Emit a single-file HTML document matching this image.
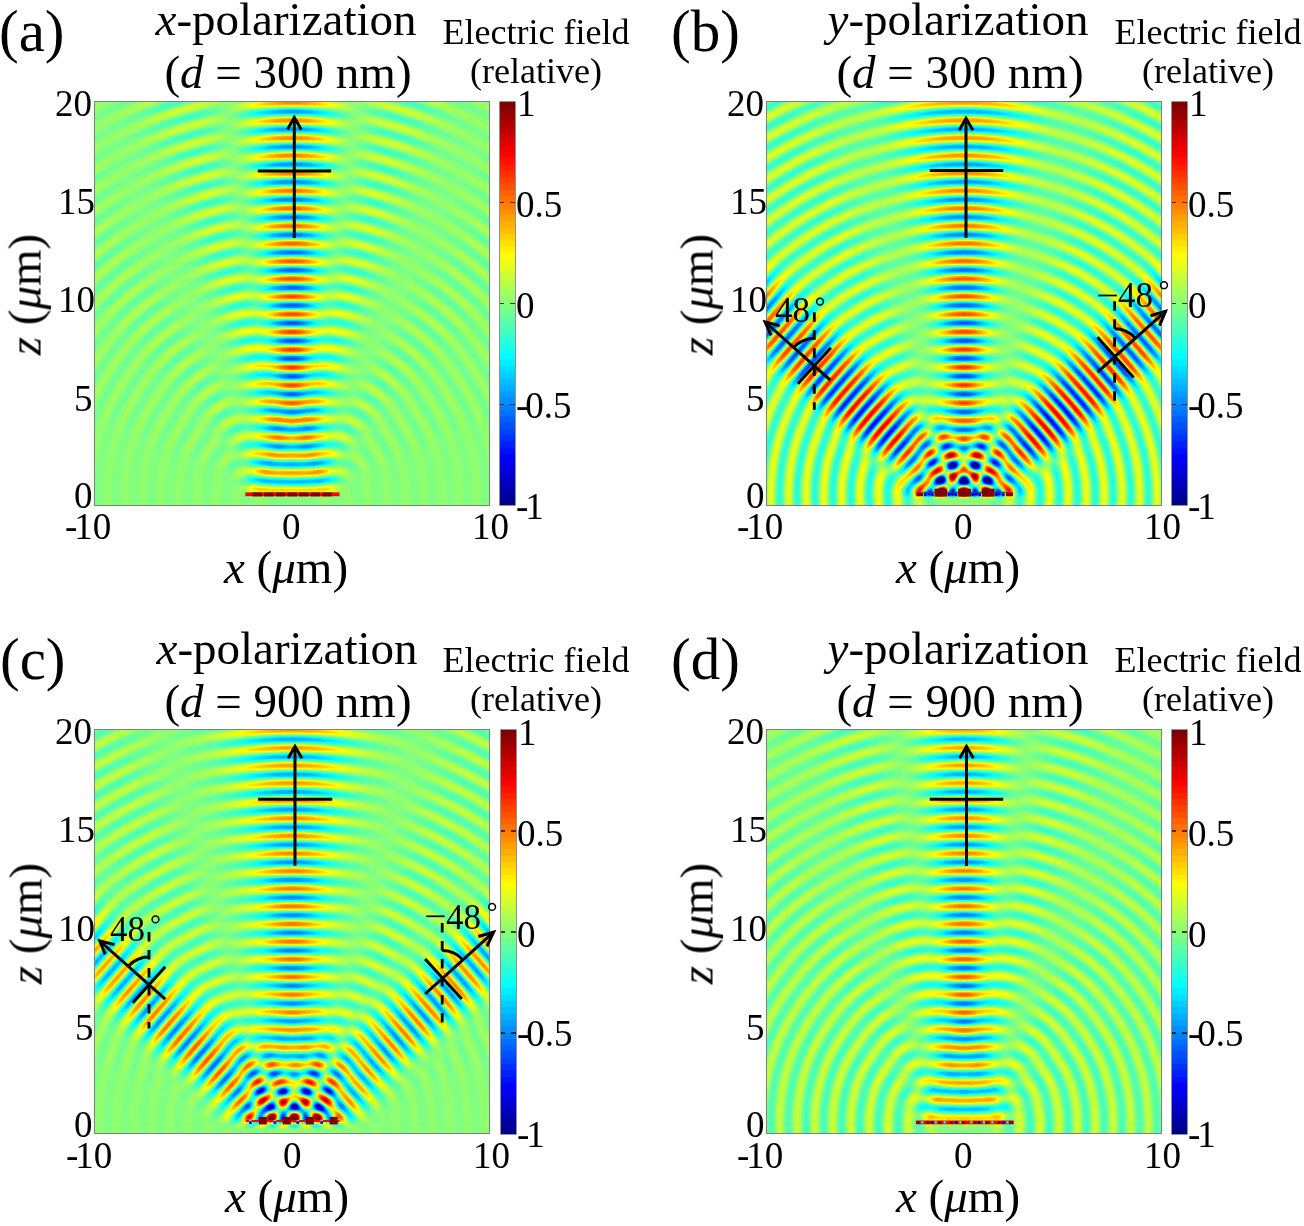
<!DOCTYPE html>
<html><head><meta charset="utf-8"><title>Electric field</title>
<style>
html,body{margin:0;padding:0;background:#fff;}
body{width:1304px;height:1226px;position:relative;overflow:hidden;font-family:"Liberation Serif",serif;color:#000;}
.pan{position:absolute;width:394px;height:403px;}
.plot{position:absolute;left:0;top:0;width:394px;height:403px;background:#80ff80;box-shadow:0 0 0 1px #808080;}
.cbar{position:absolute;left:405.5px;top:0.1px;width:15.1px;height:403.7px;box-shadow:0 0 0 0.7px rgba(60,60,60,.8);
 background:linear-gradient(to bottom,#800000,#ff0000 12.5%,#ffff00 37.5%,#80ff80 50%,#00ffff 62.5%,#0000ff 87.5%,#00008f);}
.cbc{position:absolute;left:0;top:0;width:15px;height:403.7px;}
.tk{position:absolute;left:0;width:15px;height:1.3px;background:linear-gradient(to right,rgba(40,20,0,.8) 0,rgba(40,20,0,.8) 3.6px,transparent 3.6px,transparent 10.4px,rgba(40,20,0,.8) 10.4px);}
.t{position:absolute;line-height:1;white-space:nowrap;will-change:transform;}
.hy{margin-right:-3px;}
.c{text-align:center;}
.ylab{transform:rotate(-90deg);transform-origin:50% 50%;}
.ov{position:absolute;left:0;top:0;overflow:visible;}
#ovl{position:absolute;left:0;top:0;}
#ovl .ds{stroke-dasharray:9.5 8.5;stroke-width:2.8;}
#ovl .mn{stroke-width:1.7;}
#ovl .dg{stroke-width:1.5;}
</style></head><body>

<div class="pan" style="left:94.5px;top:101.5px">
<canvas id="cva" class="plot" width="394" height="403"></canvas>
<div class="cbar"><canvas class="cbc" width="15" height="404"></canvas><i class="tk" style="top:100.4px"></i><i class="tk" style="top:201.4px"></i><i class="tk" style="top:302.4px"></i></div>
<div class="t" style="left:-95.05px;top:-99.70px;font-size:59px;">(a)</div>
<div class="t c" style="left:-8.5px;width:400px;top:-105.16px;font-size:47px"><i>x</i>-polarization</div>
<div class="t c" style="left:-6.599999999999994px;width:400px;top:-52.30px;font-size:47px">(<i>d</i> = 300 nm)</div>
<div class="t c" style="left:291.05px;width:300px;top:-87.75px;font-size:36px">Electric field</div>
<div class="t c" style="left:291.05px;width:300px;top:-48.65px;font-size:36px">(relative)</div>
<div class="t" style="left:-39.70px;top:-17.00px;font-size:37px;">20</div>
<div class="t" style="left:-36.90px;top:81.10px;font-size:37px;">15</div>
<div class="t" style="left:-36.90px;top:179.90px;font-size:37px;">10</div>
<div class="t" style="left:-20.50px;top:278.80px;font-size:37px;">5</div>
<div class="t" style="left:-20.60px;top:375.90px;font-size:37px;">0</div>
<div class="t" style="left:-29.40px;top:406.70px;font-size:37px;"><span class="hy">-</span>10</div>
<div class="t" style="left:187.70px;top:406.70px;font-size:37px;">0</div>
<div class="t" style="left:377.70px;top:406.70px;font-size:37px;">10</div>
<div class="t" style="left:422.90px;top:-16.30px;font-size:37px;">1</div>
<div class="t" style="left:421.80px;top:84.70px;font-size:37px;">0.5</div>
<div class="t" style="left:421.80px;top:185.80px;font-size:37px;">0</div>
<div class="t" style="left:421.60px;top:285.40px;font-size:37px;"><span class="hy">-</span>0.5</div>
<div class="t" style="left:421.60px;top:386.30px;font-size:37px;"><span class="hy">-</span>1</div>
<div class="t c" style="left:-8.099999999999994px;width:400px;top:442.90px;font-size:47px"><i>x</i> (<i>&mu;</i>m)</div>
<div class="t c ylab" style="left:-269.1px;width:400px;top:169.85px;font-size:47px"><i>z</i> (<i>&mu;</i>m)</div>

</div>
<div class="pan" style="left:766.5px;top:101.5px">
<canvas id="cvb" class="plot" width="394" height="403"></canvas>
<div class="cbar"><canvas class="cbc" width="15" height="404"></canvas><i class="tk" style="top:100.4px"></i><i class="tk" style="top:201.4px"></i><i class="tk" style="top:302.4px"></i></div>
<div class="t" style="left:-95.05px;top:-99.70px;font-size:59px;">(b)</div>
<div class="t c" style="left:-8.5px;width:400px;top:-105.16px;font-size:47px"><i>y</i>-polarization</div>
<div class="t c" style="left:-6.599999999999994px;width:400px;top:-52.30px;font-size:47px">(<i>d</i> = 300 nm)</div>
<div class="t c" style="left:291.05px;width:300px;top:-87.75px;font-size:36px">Electric field</div>
<div class="t c" style="left:291.05px;width:300px;top:-48.65px;font-size:36px">(relative)</div>
<div class="t" style="left:-39.70px;top:-17.00px;font-size:37px;">20</div>
<div class="t" style="left:-36.90px;top:81.10px;font-size:37px;">15</div>
<div class="t" style="left:-36.90px;top:179.90px;font-size:37px;">10</div>
<div class="t" style="left:-20.50px;top:278.80px;font-size:37px;">5</div>
<div class="t" style="left:-20.60px;top:375.90px;font-size:37px;">0</div>
<div class="t" style="left:-29.40px;top:406.70px;font-size:37px;"><span class="hy">-</span>10</div>
<div class="t" style="left:187.70px;top:406.70px;font-size:37px;">0</div>
<div class="t" style="left:377.70px;top:406.70px;font-size:37px;">10</div>
<div class="t" style="left:422.90px;top:-16.30px;font-size:37px;">1</div>
<div class="t" style="left:421.80px;top:84.70px;font-size:37px;">0.5</div>
<div class="t" style="left:421.80px;top:185.80px;font-size:37px;">0</div>
<div class="t" style="left:421.60px;top:285.40px;font-size:37px;"><span class="hy">-</span>0.5</div>
<div class="t" style="left:421.60px;top:386.30px;font-size:37px;"><span class="hy">-</span>1</div>
<div class="t c" style="left:-8.099999999999994px;width:400px;top:442.90px;font-size:47px"><i>x</i> (<i>&mu;</i>m)</div>
<div class="t c ylab" style="left:-269.1px;width:400px;top:169.85px;font-size:47px"><i>z</i> (<i>&mu;</i>m)</div>

</div>
<div class="pan" style="left:95.0px;top:730.0px">
<canvas id="cvc" class="plot" width="394" height="403"></canvas>
<div class="cbar"><canvas class="cbc" width="15" height="404"></canvas><i class="tk" style="top:100.4px"></i><i class="tk" style="top:201.4px"></i><i class="tk" style="top:302.4px"></i></div>
<div class="t" style="left:-95.05px;top:-99.70px;font-size:59px;">(c)</div>
<div class="t c" style="left:-8.5px;width:400px;top:-105.16px;font-size:47px"><i>x</i>-polarization</div>
<div class="t c" style="left:-6.599999999999994px;width:400px;top:-52.30px;font-size:47px">(<i>d</i> = 900 nm)</div>
<div class="t c" style="left:291.05px;width:300px;top:-87.75px;font-size:36px">Electric field</div>
<div class="t c" style="left:291.05px;width:300px;top:-48.65px;font-size:36px">(relative)</div>
<div class="t" style="left:-39.70px;top:-17.00px;font-size:37px;">20</div>
<div class="t" style="left:-36.90px;top:81.10px;font-size:37px;">15</div>
<div class="t" style="left:-36.90px;top:179.90px;font-size:37px;">10</div>
<div class="t" style="left:-20.50px;top:278.80px;font-size:37px;">5</div>
<div class="t" style="left:-20.60px;top:375.90px;font-size:37px;">0</div>
<div class="t" style="left:-29.40px;top:406.70px;font-size:37px;"><span class="hy">-</span>10</div>
<div class="t" style="left:187.70px;top:406.70px;font-size:37px;">0</div>
<div class="t" style="left:377.70px;top:406.70px;font-size:37px;">10</div>
<div class="t" style="left:422.90px;top:-16.30px;font-size:37px;">1</div>
<div class="t" style="left:421.80px;top:84.70px;font-size:37px;">0.5</div>
<div class="t" style="left:421.80px;top:185.80px;font-size:37px;">0</div>
<div class="t" style="left:421.60px;top:285.40px;font-size:37px;"><span class="hy">-</span>0.5</div>
<div class="t" style="left:421.60px;top:386.30px;font-size:37px;"><span class="hy">-</span>1</div>
<div class="t c" style="left:-8.099999999999994px;width:400px;top:442.90px;font-size:47px"><i>x</i> (<i>&mu;</i>m)</div>
<div class="t c ylab" style="left:-269.1px;width:400px;top:169.85px;font-size:47px"><i>z</i> (<i>&mu;</i>m)</div>

</div>
<div class="pan" style="left:766.5px;top:730.0px">
<canvas id="cvd" class="plot" width="394" height="403"></canvas>
<div class="cbar"><canvas class="cbc" width="15" height="404"></canvas><i class="tk" style="top:100.4px"></i><i class="tk" style="top:201.4px"></i><i class="tk" style="top:302.4px"></i></div>
<div class="t" style="left:-95.05px;top:-99.70px;font-size:59px;">(d)</div>
<div class="t c" style="left:-8.5px;width:400px;top:-105.16px;font-size:47px"><i>y</i>-polarization</div>
<div class="t c" style="left:-6.599999999999994px;width:400px;top:-52.30px;font-size:47px">(<i>d</i> = 900 nm)</div>
<div class="t c" style="left:291.05px;width:300px;top:-87.75px;font-size:36px">Electric field</div>
<div class="t c" style="left:291.05px;width:300px;top:-48.65px;font-size:36px">(relative)</div>
<div class="t" style="left:-39.70px;top:-17.00px;font-size:37px;">20</div>
<div class="t" style="left:-36.90px;top:81.10px;font-size:37px;">15</div>
<div class="t" style="left:-36.90px;top:179.90px;font-size:37px;">10</div>
<div class="t" style="left:-20.50px;top:278.80px;font-size:37px;">5</div>
<div class="t" style="left:-20.60px;top:375.90px;font-size:37px;">0</div>
<div class="t" style="left:-29.40px;top:406.70px;font-size:37px;"><span class="hy">-</span>10</div>
<div class="t" style="left:187.70px;top:406.70px;font-size:37px;">0</div>
<div class="t" style="left:377.70px;top:406.70px;font-size:37px;">10</div>
<div class="t" style="left:422.90px;top:-16.30px;font-size:37px;">1</div>
<div class="t" style="left:421.80px;top:84.70px;font-size:37px;">0.5</div>
<div class="t" style="left:421.80px;top:185.80px;font-size:37px;">0</div>
<div class="t" style="left:421.60px;top:285.40px;font-size:37px;"><span class="hy">-</span>0.5</div>
<div class="t" style="left:421.60px;top:386.30px;font-size:37px;"><span class="hy">-</span>1</div>
<div class="t c" style="left:-8.099999999999994px;width:400px;top:442.90px;font-size:47px"><i>x</i> (<i>&mu;</i>m)</div>
<div class="t c ylab" style="left:-269.1px;width:400px;top:169.85px;font-size:47px"><i>z</i> (<i>&mu;</i>m)</div>

</div>
<div class="t" style="left:774.9px;top:293.4px;font-size:35px">48</div>
<div class="t" style="left:1118.0px;top:278.3px;font-size:35px">48</div>
<div class="t" style="left:109.8px;top:912.1px;font-size:35px">48</div>
<div class="t" style="left:446.1px;top:899.7px;font-size:35px">48</div>
<svg id="ovl" width="1304" height="1226" viewBox="0 0 1304 1226"><g stroke="#000" stroke-width="3" fill="none"><line x1="294.3" y1="238.0" x2="294.3" y2="118.0"/><polyline points="287.5,129.5 294.3,117.6 301.2,129.5"/><line x1="257.8" y1="170.9" x2="331.1" y2="170.9"/><line x1="966.0" y1="237.7" x2="966.0" y2="118.8"/><polyline points="959.2,130.3 966.0,118.39999999999999 972.9,130.3"/><line x1="929.8" y1="170.5" x2="1003.2" y2="170.5"/><line x1="295.0" y1="865.7" x2="295.0" y2="746.8"/><polyline points="288.2,758.3 295.0,746.4 301.9,758.3"/><line x1="258.1" y1="799.2" x2="332.2" y2="799.2"/><line x1="966.5" y1="866.0" x2="966.5" y2="746.8"/><polyline points="959.7,758.3 966.5,746.4 973.4,758.3"/><line x1="929.8" y1="799.2" x2="1003.2" y2="799.2"/><line x1="830.3" y1="380.1" x2="765.1" y2="322.0"/><polyline points="779.6,325.7 765.1,322.0 771.0,335.4"/><line x1="797.9" y1="383.8" x2="830.9" y2="347.7"/><line class="ds" x1="814.3" y1="312.2" x2="814.3" y2="409.7"/><path d="M814.3,338.5 A27.5,27.5 0 0 0 793.56,347.60"/><line x1="1097.5" y1="372.1" x2="1165.5" y2="311.4"/><polyline points="1150.5,315.8 1165.5,311.4 1159.6,325.6"/><line x1="1097.5" y1="337.3" x2="1133.6" y2="377.6"/><line class="ds" x1="1114.6" y1="301.2" x2="1114.6" y2="407.6"/><path d="M1114.6,328.7 A27.5,27.5 0 0 1 1135.04,337.80"/><line x1="165.2" y1="999.1" x2="99.8" y2="941.0"/><polyline points="114.5,944.6 99.8,941.0 105.3,954.4"/><line x1="132.8" y1="1002.8" x2="165.2" y2="966.7"/><line class="ds" x1="149.0" y1="932.0" x2="149.0" y2="1028.4"/><path d="M149.0,956.9 A27.5,27.5 0 0 0 128.56,966.00"/><line x1="425.1" y1="994.0" x2="493.6" y2="932.2"/><polyline points="478.3,936.5 493.6,932.2 486.9,946.3"/><line x1="425.1" y1="959.1" x2="461.8" y2="998.9"/><line class="ds" x1="442.2" y1="923.0" x2="442.2" y2="1028.8"/><path d="M442.2,950.6 A27.5,27.5 0 0 1 462.64,959.70"/><line class="mn" x1="1098.1" y1="295.5" x2="1116.9" y2="295.5"/><line class="mn" x1="426.3" y1="916.3" x2="444.6" y2="916.3"/><circle class="dg" cx="820.0" cy="301.6" r="3.4"/><circle class="dg" cx="1164.0" cy="285.2" r="3.4"/><circle class="dg" cx="155.5" cy="919.4" r="3.4"/><circle class="dg" cx="492.1" cy="906.9" r="3.4"/></g></svg>
<script>
(function(){
var JET=[0,0,143,0,0,159,0,0,175,0,0,191,0,0,207,0,0,223,0,0,239,0,0,255,0,16,255,0,32,255,0,48,255,0,64,255,0,80,255,0,96,255,0,112,255,0,128,255,0,143,255,0,159,255,0,175,255,0,191,255,0,207,255,0,223,255,0,239,255,0,255,255,16,255,239,32,255,223,48,255,207,64,255,191,80,255,175,96,255,159,112,255,143,128,255,128,143,255,112,159,255,96,175,255,80,191,255,64,207,255,48,223,255,32,239,255,16,255,255,0,255,239,0,255,223,0,255,207,0,255,191,0,255,175,0,255,159,0,255,143,0,255,128,0,255,112,0,255,96,0,255,80,0,255,64,0,255,48,0,255,32,0,255,16,0,255,0,0,239,0,0,223,0,0,207,0,0,191,0,0,175,0,0,159,0,0,143,0,0,128,0,0];
function field(prm,W,H){
  var lam=prm.lam, k=2*Math.PI/lam, z0=prm.z0, L=prm.L, ns=prm.ns, i, j;
  var xs=new Float64Array(ns), ws=new Float64Array(ns), fp=new Float64Array(ns);
  for(j=0;j<ns;j++){
    var x=-L+2*L*j/(ns-1);
    var env=Math.exp(-Math.pow(Math.abs(x)/prm.gw,prm.gp));
    var w=env*prm.c0;
    xs[j]=x; ws[j]=w/ns; fp[j]=prm.foc>0?-k*(Math.sqrt(x*x+prm.foc*prm.foc)-prm.foc):0;
  }
  var cfp=new Float64Array(ns), sfp=new Float64Array(ns);
  for(j=0;j<ns;j++){cfp[j]=Math.cos(fp[j]); sfp[j]=Math.sin(fp[j]);}
  var OUT=[0,0];
  function ap(x,z){
    var re=0,im=0,dz=z-z0, pol=prm.pol==='x', pe=prm.pe, reg=prm.reg, soft=prm.soft, dn=prm.dn;
    for(var j=0;j<ns;j++){
      var dx=x-xs[j]; var r=Math.sqrt(dx*dx+dz*dz+reg);
      var ct=dz/r, pat;
      if(pol){ if(ct<=0) continue; pat=pe===1?ct:Math.pow(ct,pe); }
      else { pat=(1+ct)/2; if(pe!==1) pat=Math.pow(pat,pe); if(dz<0){ var f=1+dz/dn; if(f<=0) continue; pat*=f; } }
      var a=ws[j]*pat/Math.sqrt(k*r+soft); var kr=k*r;
      var c=Math.cos(kr), s=Math.sin(kr);
      re+=a*(c*cfp[j]-s*sfp[j]); im+=a*(s*cfp[j]+c*sfp[j]);
    }
    OUT[0]=re; OUT[1]=im; return OUT;
  }
  var R02=prm.R0*prm.R0;
  function iso(x,z){
    var dz=z-prm.zi; var r=Math.sqrt(x*x+dz*dz); var re=Math.sqrt(r*r+R02); var ct=dz/Math.max(r,1e-6);
    var pat=(prm.pol==='x')?Math.pow(Math.abs(ct),prm.pi):1;
    var a=pat*Math.pow((10+prm.si)/(re+prm.si),prm.gam); var kr=k*(prm.pr?r:re);
    if(prm.ax>0) a*=1-Math.exp(-x*x/(prm.ax*prm.ax));
    OUT[0]=a*Math.cos(kr); OUT[1]=a*Math.sin(kr); return OUT;
  }
  var sm=0,q,u; for(q=0;q<31;q++){u=ap(0,4+q*0.5); sm+=Math.sqrt(u[0]*u[0]+u[1]*u[1]);} var g=prm.A/(sm/31);
  u=ap(0,prm.zr); var ph=Math.atan2(u[1],u[0])+prm.dph;
  var cph=Math.cos(ph), sph=Math.sin(ph);
  u=iso(0,prm.zr); var iph=ph-Math.atan2(u[1],u[0])+prm.phi; var ci=Math.cos(iph)*prm.ci, si=Math.sin(iph)*prm.ci;
  var th=prm.sth*Math.PI/180, sn=Math.sin(th), cs=Math.cos(th);
  u=ap(0,prm.zc); var argc=Math.atan2(u[1],u[0]);
  var V=new Float32Array(W*H);
  for(var py=0;py<H;py++){
    var z=20-(py+0.5)/H*20, dz=z-z0;
    for(var px=0;px<W;px++){
      var x=-10+(px+0.5)/W*20;
      u=ap(x,z); var re=u[0]*g, im=u[1]*g;
      if(prm.ci){ u=iso(x,z); re+=u[0]*ci-u[1]*si; im+=u[0]*si+u[1]*ci; }
      if(prm.As && dz>-0.3){
        var dzp=dz>0?dz:0, s=dzp/cs, dnf=dz<0?1+dz/0.3:1;
        var dec=prm.As*dnf*Math.pow(1+s/prm.s0,-prm.sgm);
        for(var sg=-1;sg<=1;sg+=2){
          var xl=x+sg*dzp*sn/cs;
          var dd=-sg*xl-prm.x0; var a=dec*Math.exp(-Math.pow(Math.abs(dd)/(dd>0?prm.ws:prm.wsi),prm.wp));
          var p2=k*(-sg*x*sn+dz*cs)-k*((prm.zc-z0)*cs)+argc+prm.dphs+sg*prm.dps;
          re+=a*Math.cos(p2); im+=a*Math.sin(p2);
        }
      }
      V[py*W+px]=re*cph+im*sph;
    }
  }
  return V;
}
function draw(id, prm){
  var cv=document.getElementById(id); if(!cv||!cv.getContext) return;
  var ctx=cv.getContext('2d'); var W=cv.width,H=cv.height;
  var img=ctx.createImageData(W,H); var d=img.data;
  var V=field(prm,W,H);
  for(var i=0;i<W*H;i++){
    var idx=Math.floor((V[i]+1)*32); if(idx<0)idx=0; if(idx>63)idx=63;
    var o=i*4; d[o]=JET[idx*3]; d[o+1]=JET[idx*3+1]; d[o+2]=JET[idx*3+2]; d[o+3]=255;
  }
  ctx.putImageData(img,0,0);
}
try{
var cbs=document.getElementsByClassName('cbc');
for(var i=0;i<cbs.length;i++){var c=cbs[i].getContext('2d'); var H=cbs[i].height;
  for(var j=0;j<64;j++){var idx=63-j; c.fillStyle='rgb('+JET[idx*3]+','+JET[idx*3+1]+','+JET[idx*3+2]+')'; c.fillRect(0,Math.floor(j*H/64),15,Math.ceil(H/64)+1);} }
}catch(e){}
var base={lam:0.870,z0:0.5,L:2.5,ns:61,c0:1,c1:0,Lg:1.1707,pg:0,gw:2.3,gp:4,foc:0,tap:0,pol:'x',pe:1,reg:0.02,soft:0.5,A:0.6,zr:19.9,dph:0,ci:0,zi:0.5,R0:2,si:2,gam:0.3,pi:1,phi:0,dn:0.4,As:0,sth:48,ws:1.6,wp:2,s0:10,sgm:0.3,son:0.8,zc:0.7,dphs:0,dps:0,ax:0,pr:0,x0:0,wsi:1.6};
function P(o){var r={};for(var k in base)r[k]=base[k];for(var k in o)r[k]=o[k];return r;}
try{draw('cva',P({dph:0.4,ci:0.09,foc:22,A:0.56,gp:8,gw:2.4,ax:2.5,phi:3.14}));}catch(e){}
try{draw('cvb',P({dph:0.43,pol:'y',ci:0.19,A:0.55,foc:14,As:0.64,ws:1.9,wsi:2.8,wp:3,s0:10,sgm:0.3,ax:2.5,x0:0.55}));}catch(e){}
try{draw('cvc',P({dph:0.57,ci:0.12,A:0.48,foc:0,gp:8,As:0.6,ws:2.0,wsi:2.8,wp:2.5,x0:0.75,dps:0.7,s0:6,sgm:0.4,ax:2.5}));}catch(e){}
try{draw('cvd',P({dph:0.63,pol:'y',ci:0.12,gam:0.6,A:0.5,foc:22,gp:4,gw:2.4,ax:2.5,phi:3.14}));}catch(e){}
function rows(id,ox,oy,list){
  var cv=document.getElementById(id); if(!cv||!cv.getContext) return; var c=cv.getContext('2d');
  for(var i=0;i<list.length;i++){var t=list[i]; c.fillStyle=t[4]; c.fillRect(t[0]-ox,t[2]-oy,t[1]-t[0],t[3]-t[2]);}
}
var R='#ff0000',DR='#800000',B='#0000df',C='#00ffff',OR='#ff8000';
try{(function(){
  var L=[[244.8,339,491.9,495.7,R]];
  for(var i=0;i<7;i++){var x=252.1+i*11.6; L.push([x,x+9.6,491.9,495.9,DR]);}
  rows('cva',94.5,101.5,L);
  L=[[915.9,922.7,491.9,495.7,DR],[1005.4,1012.5,491.9,495.7,DR],[922,1005.4,491.2,492.4,'#205080']];
  [934.0,957.7,981.3].forEach(function(x){L.push([x,x+12.7,488.2,496.1,DR]);});
  [924.8,931.9,948.4,955.6,972,979.2,995.7,1002.8].forEach(function(x){L.push([x-1.3,x+1.3,492.5,495.7,B]);});
  rows('cvb',766.5,101.5,L);
  L=[[246,339.7,1120,1122,R]];
  [258.9,282.8,305.8,329.7].forEach(function(x){L.push([x,x+8,1116.9,1124.4,DR]);});
  [250.4,274.9,297.8,321.7].forEach(function(x){L.push([x-1.3,x+1.3,1119.9,1121.5,C]);L.push([x-1.3,x+1.3,1121.5,1123.9,B]);});
  rows('cvc',95,730,L);
  L=[[915.5,1013.4,1120.5,1124.3,R]];
  [70,185,330,465,610,750,890,1030,1170].forEach(function(z){var x=910+z/11.85; L.push([x,x+3.2,1121,1124,DR]);});
  [255,540,815,1100].forEach(function(z){var x=910+z/11.85; L.push([x-1.3,x+1.3,1121,1124,B]);});
  [140,300,405,590,720,870,970,1150].forEach(function(z){var x=910+z/11.85; L.push([x-1,x+1,1121,1123.5,C]);});
  rows('cvd',766.5,730,L);
})();}catch(e){}

})();
</script>
</body></html>
